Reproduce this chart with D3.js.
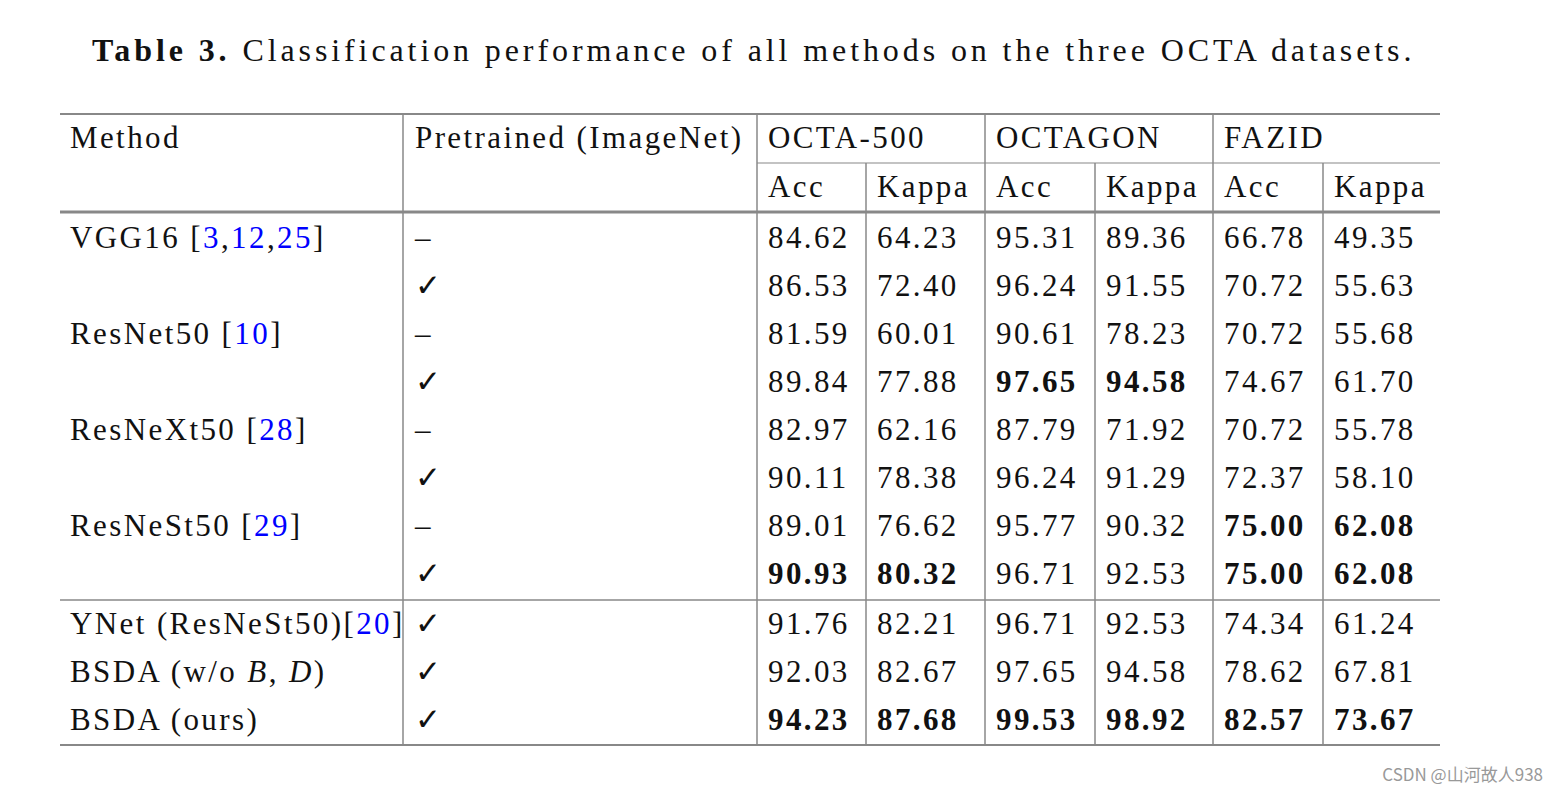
<!DOCTYPE html>
<html><head><meta charset="utf-8">
<script src="https://cdn.jsdelivr.net/npm/d3@7"></script>
<style>body{margin:0;background:#fff}svg text{font-family:"Liberation Serif",serif;font-size:31px;fill:#111;letter-spacing:2.4px}</style>
</head><body><svg id="chart" width="1558" height="794"></svg>
<script>
// table content
var methods = [["VGG16 ", ["3", "12", "25"]], ["", []], ["ResNet50 ", ["10"]], ["", []], ["ResNeXt50 ", ["28"]], ["", []], ["ResNeSt50 ", ["29"]], ["", []],
  ["YNet (ResNeSt50)", ["20"]], ["BSDA (w/o B, D)", []], ["BSDA (ours)", []]];
var pretrained = ["–", "✓", "–", "✓", "–", "✓", "–", "✓", "✓", "✓", "✓"];
var datasets = ["OCTA-500", "OCTAGON", "FAZID"];
var metrics = ["Acc", "Kappa", "Acc", "Kappa", "Acc", "Kappa"];
var values = [
  ["84.62", "64.23", "95.31", "89.36", "66.78", "49.35"],
  ["86.53", "72.40", "96.24", "91.55", "70.72", "55.63"],
  ["81.59", "60.01", "90.61", "78.23", "70.72", "55.68"],
  ["89.84", "77.88", "97.65", "94.58", "74.67", "61.70"],
  ["82.97", "62.16", "87.79", "71.92", "70.72", "55.78"],
  ["90.11", "78.38", "96.24", "91.29", "72.37", "58.10"],
  ["89.01", "76.62", "95.77", "90.32", "75.00", "62.08"],
  ["90.93", "80.32", "96.71", "92.53", "75.00", "62.08"],
  ["91.76", "82.21", "96.71", "92.53", "74.34", "61.24"],
  ["92.03", "82.67", "97.65", "94.58", "78.62", "67.81"],
  ["94.23", "87.68", "99.53", "98.92", "82.57", "73.67"]];
var bold = [
  [0,0,0,0,0,0],[0,0,0,0,0,0],[0,0,0,0,0,0],[0,0,1,1,0,0],[0,0,0,0,0,0],[0,0,0,0,0,0],
  [0,0,0,0,1,1],[1,1,0,0,1,1],[0,0,0,0,0,0],[0,0,0,0,0,0],[1,1,1,1,1,1]];

var svg = d3.select("#chart");
var colX = [60, 403, 757, 866, 985, 1095, 1213, 1323, 1440];
var y = d3.scaleLinear().domain([0, 1]).range([238, 286]);
var line = (x1, x2, yy, w) => svg.append("line").attr("x1", x1).attr("x2", x2).attr("y1", yy).attr("y2", yy).attr("stroke", "#888").attr("stroke-width", w);
var vline = (x, y1, y2) => svg.append("line").attr("x1", x).attr("x2", x).attr("y1", y1).attr("y2", y2).attr("stroke", "#888").attr("stroke-width", 1.5);

var t = svg.append("text").attr("x", 92).attr("y", 61).style("font-size", "32px").style("letter-spacing", "3.9px");
t.append("tspan").attr("font-weight", "bold").text("Table 3.");
t.append("tspan").text(" Classification performance of all methods on the three OCTA datasets.");

line(60, 1440, 114, 2); line(757, 1440, 163, 1.2); line(60, 1440, 212, 3); line(60, 1440, 600, 1.5); line(60, 1440, 745, 2);
[403, 757, 985, 1213].forEach(x => vline(x, 114, 745));
[866, 1095, 1323].forEach(x => vline(x, 163, 745));

var base = 10;
svg.append("text").attr("x", 70).attr("y", 148).text("Method");
svg.append("text").attr("x", 415).attr("y", 148).text("Pretrained (ImageNet)");
datasets.forEach((d, i) => svg.append("text").attr("x", colX[2 + 2 * i] + 11).attr("y", 148).text(d));
metrics.forEach((m, i) => svg.append("text").attr("x", colX[2 + i] + 11).attr("y", 197).text(m));

methods.forEach((m, r) => {
  var yy = y(r) + base + (r >= 8 ? 2 : 0);
  var tx = svg.append("text").attr("x", 70).attr("y", yy);
  if (r === 9) {
    tx.append("tspan").text("BSDA (w/o ");
    tx.append("tspan").attr("font-style", "italic").text("B");
    tx.append("tspan").text(", ");
    tx.append("tspan").attr("font-style", "italic").text("D");
    tx.append("tspan").text(")");
  } else {
    tx.append("tspan").text(m[0]);
    if (m[1].length) {
      tx.append("tspan").text("[");
      m[1].forEach((c, i) => {
        if (i) tx.append("tspan").text(",");
        tx.append("tspan").style("fill", "#0000ff").text(c);
      });
      tx.append("tspan").text("]");
    }
  }
  svg.append("text").attr("x", 415).attr("y", yy).text(pretrained[r]);
  values[r].forEach((v, c) => svg.append("text").attr("x", colX[2 + c] + 11).attr("y", yy)
    .attr("font-weight", bold[r][c] ? "bold" : null).text(v));
});

svg.append("text").attr("x", 1543).attr("y", 781).attr("text-anchor", "end").style("letter-spacing", "0px")
  .style("font-family", "'Noto Sans CJK SC', sans-serif").style("font-size", "17px").style("fill", "#999").text("CSDN @山河故人938");
</script></body></html>
